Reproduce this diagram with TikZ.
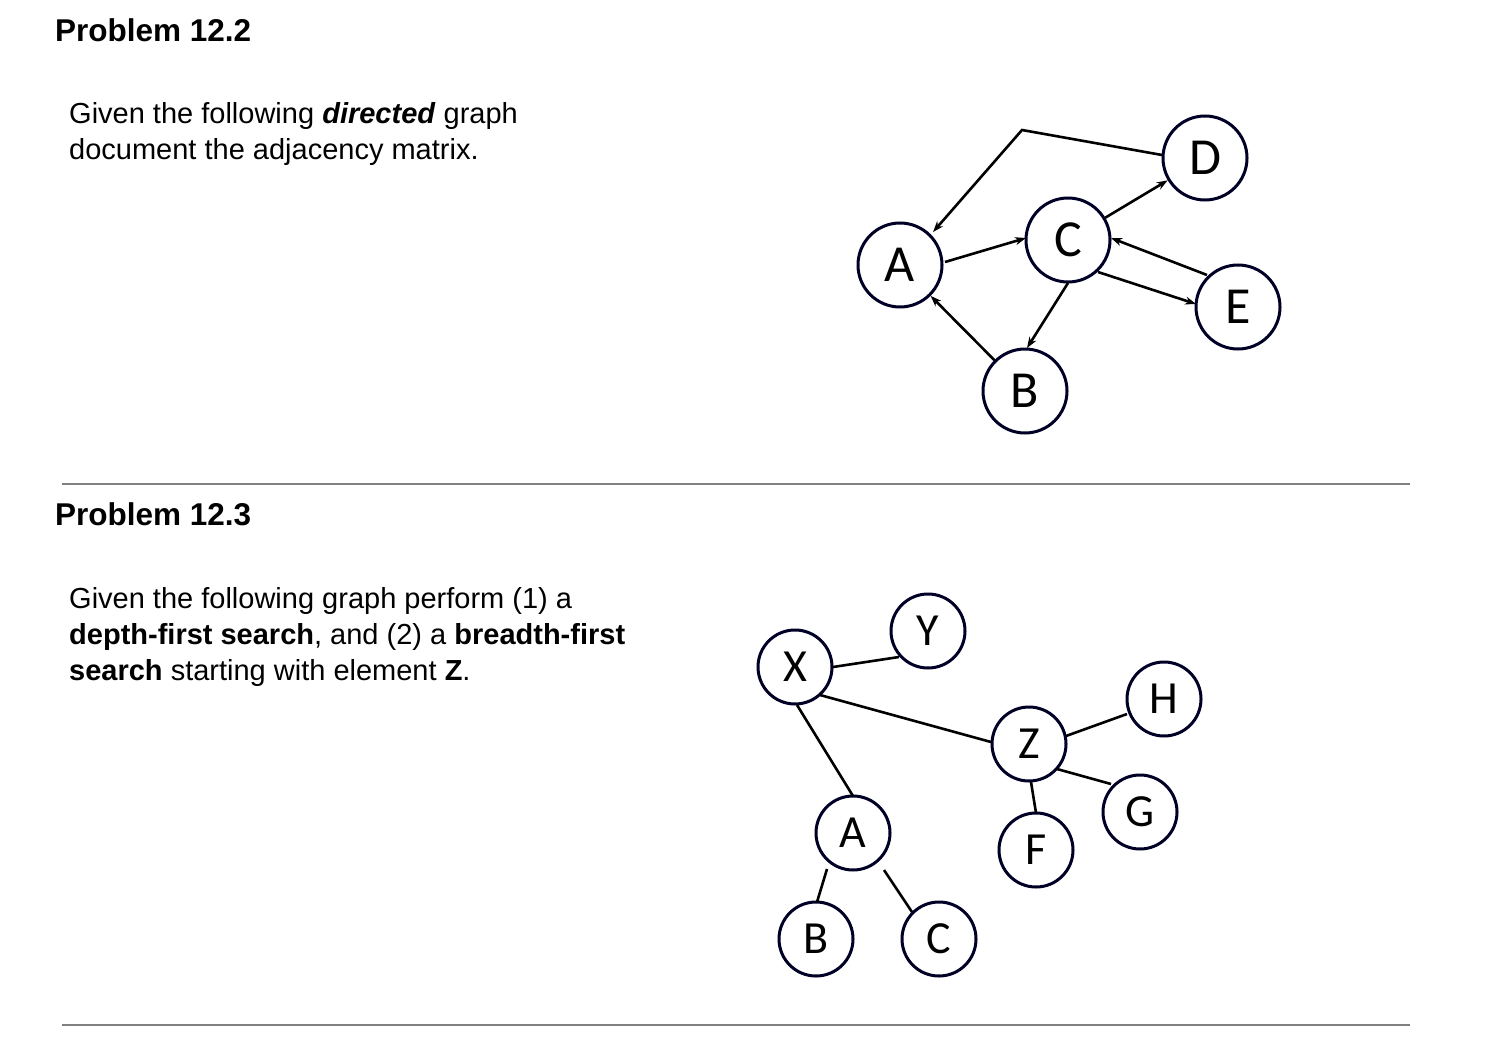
\documentclass[tikz,border=0pt]{standalone}
\usepackage{fontspec}
\setmainfont{Liberation Sans}
\newfontfamily\nodefont{Carlito}
\usetikzlibrary{arrows.meta}
\begin{document}
\begin{tikzpicture}[x=1pt,y=-1pt,
  vtx/.style={circle,draw=black!85!blue,line width=3pt,minimum size=84pt,inner sep=0pt,font=\nodefont\fontsize{52}{52}\selectfont},
  sv/.style={circle,draw=black!85!blue,line width=3pt,minimum size=74pt,inner sep=0pt,font=\nodefont\fontsize{46}{46}\selectfont},
  arr/.style={line width=2.6pt,-{Stealth[length=11pt,width=8pt]}},
  ln/.style={line width=2.6pt},
  txt/.style={anchor=north west,inner sep=0pt,align=left,font=\fontsize{29}{36}\selectfont},
  hd/.style={anchor=west,inner sep=0pt,font=\bfseries\fontsize{31.5}{36}\selectfont}]
\useasboundingbox (0,0) rectangle (1512,1054);
\fill[white] (0,0) rectangle (1512,1054);
\node[hd] (h1) at (55,30) {Problem 12.2};
\node[txt] (t1) at (69,102) {Given the following \textbf{\textit{directed}} graph\\document the adjacency matrix.};
\node[hd] (h2) at (55,514) {Problem 12.3};
\node[txt] (t2) at (69,587) {Given the following graph perform (1) a\\\textbf{depth-first search}, and (2) a \textbf{breadth-first}\\\textbf{search} starting with element \textbf{Z}.};
\draw[line width=2pt,gray] (62,484) -- (1410,484);
\draw[line width=2pt,gray] (62,1025) -- (1410,1025);
% top graph
\node[vtx] (A) at (900,265) {A};
\node[vtx] (C) at (1068,240) {C};
\node[vtx] (D) at (1205,158) {D};
\node[vtx] (E) at (1238,307) {E};
\node[vtx] (B) at (1025,391) {B};
\coordinate (k) at (1022,130);
\coordinate (d0) at (1162,155);
\coordinate (a1) at (933,232);
\draw[arr] (d0) -- (k) -- (a1);
\coordinate (a2) at (945,262);
\coordinate (c3) at (1026,238);
\draw[arr] (a2) -- (c3);
\draw[arr] (B) -- (A);
\coordinate (c4) at (1068,283);
\coordinate (b1) at (1027,348);
\draw[arr] (c4) -- (b1);
\draw[arr] (C) -- (D);
\coordinate (e1) at (1207,275);
\coordinate (c1) at (1111,238);
\coordinate (c2) at (1098,272);
\coordinate (e2) at (1196,304);
\draw[arr] (e1) -- (c1);
\draw[arr] (c2) -- (e2);
% bottom graph
\node[sv] (X) at (795,667) {X};
\node[sv] (Y) at (928,631) {Y};
\node[sv] (Z) at (1029,744) {Z};
\node[sv] (H) at (1164,699) {H};
\node[sv] (G) at (1140,812) {G};
\node[sv] (F) at (1036,850) {F};
\node[sv] (A2) at (853,833) {A};
\node[sv] (B2) at (816,939) {B};
\node[sv] (C2) at (939,939) {C};
\draw[ln] (833,667) -- (899,657);
\draw[ln] (820,695) -- (991,742);
\draw[ln] (797,705) -- (853,796);
\draw[ln] (827,869) -- (817,902);
\draw[ln] (884,870) -- (912,912);
\draw[ln] (1066,736) -- (1127,714);
\draw[ln] (1057,769) -- (1111,784);
\draw[ln] (1031,782) -- (1036,813);
\end{tikzpicture}
\end{document}
